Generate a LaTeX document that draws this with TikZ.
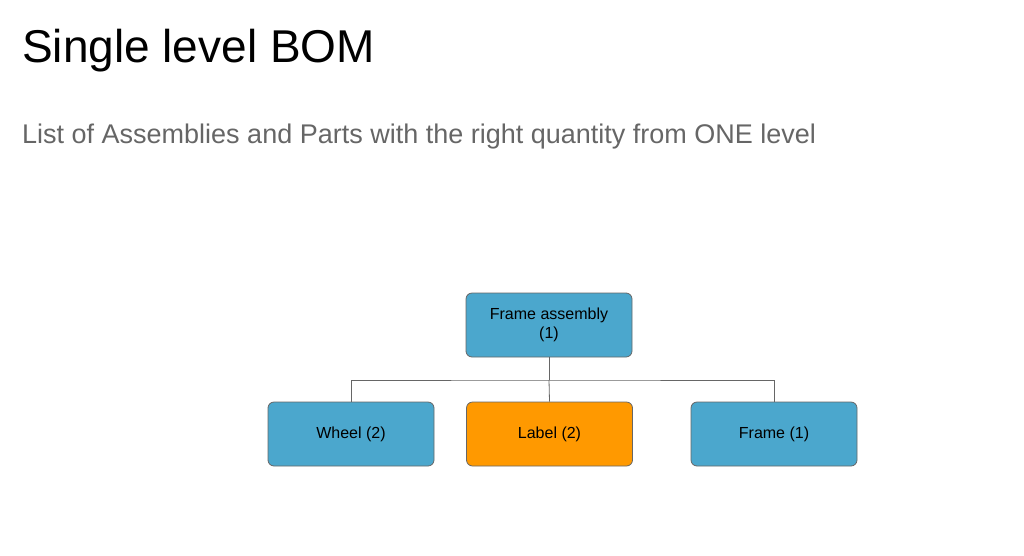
\documentclass[tikz,border=0pt]{standalone}
\usepackage{fontspec}
\setmainfont{Liberation Sans}
\definecolor{bl}{HTML}{4BA7CD}
\definecolor{og}{HTML}{FF9900}
\definecolor{gr}{HTML}{666666}
\begin{document}
\begin{tikzpicture}[x=1pt,y=-1pt,
  box/.style={draw=gr,rounded corners=6pt,minimum width=166pt,minimum height=64pt,align=center,font=\fontsize{16}{19}\selectfont,line width=0.8pt},
  conn/.style={draw=gr,line width=0.8pt}]
\useasboundingbox (0,0) rectangle (1024,555);
\node[anchor=base west,font=\fontsize{46}{50}\selectfont,inner sep=0] (title) at (22,62) {Single level BOM};
\node[anchor=base west,font=\fontsize{27}{30}\selectfont,text=gr,inner sep=0] (sub) at (22,143) {List of Assemblies and Parts with the right quantity from ONE level};
\node[box,fill=bl] (top) at (549,325) {Frame assembly\\(1)};
\node[box,fill=bl] (w) at (351,434) {Wheel (2)};
\node[box,fill=og] (l) at (549.5,434) {Label (2)};
\node[box,fill=bl] (f) at (774,434) {Frame (1)};
\coordinate (j) at (549,380);
\draw[conn] (top.south) -- (j);
\draw[conn] (w.north) |- (j) -| (f.north);
\draw[conn] (j) -- (l.north);
\end{tikzpicture}
\end{document}
